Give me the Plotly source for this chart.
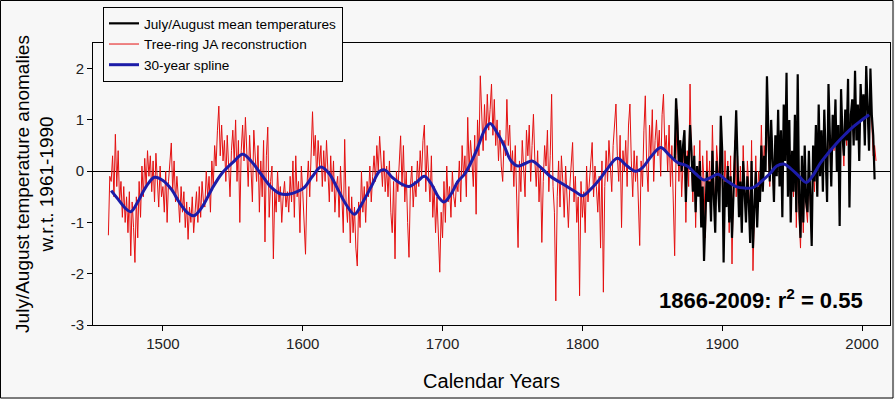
import plotly.graph_objects as go

# ---------------- data ----------------
tree_start = 1461
tree_ring = [
    -1.25, -0.1, -0.2, 0.3, -0.5, 0.72, -0.3, 0.4, -0.6, -0.2,
    -0.9, -0.3, -1.0, -0.5, -1.2, -0.4, -1.65, -0.6, -1.1, -1.78,
    -0.5, -1.3, -0.2, -0.9, 0.1, -0.5, 0.25, -0.3, 0.4, -0.1,
    0.3, -0.4, 0.2, -0.6, 0.35, -0.2, -0.7, 0.1, -0.5, -0.3,
    -0.8, 0.0, -1.0, -0.2, 0.3, 0.55, -0.4, 0.2, -0.6, -0.1,
    -0.5, -1.0, -0.3, -0.8, -0.4, -1.1, -0.6, -1.33, -0.7, -1.0,
    -0.5, -1.2, -0.8, -0.4, -1.0, -0.3, -0.9, -0.2, -0.6, -0.7,
    0.0, -0.5, -0.1, -0.8, 0.2, -0.3, 0.5, 0.1, 0.8, 1.27,
    0.3, 0.9, 0.2, 0.6, -0.2, 0.7, 0.1, -0.5, 0.4, 0.8,
    0.2, 1.0, -0.2, 0.6, -1.0, 0.4, 0.9, 0.2, 1.05, 0.5,
    -0.3, 0.7, 0.1, -0.6, 0.8, 0.3, -0.2, 0.5, -0.8, 0.2,
    -0.5, 0.6, -1.38, 0.3, 0.86, -0.9, -0.2, 0.1, -1.71, -0.4,
    -0.8, 0.0, -0.6, -0.3, -1.0, -0.5, -0.2, -0.7, -0.4, -0.8,
    -0.1, -0.6, 0.2, -0.9, 0.3, -0.5, -0.2, -1.2, 0.1, -0.4,
    -0.9, -1.62, -0.3, 0.2, -0.5, 0.5, 1.16, 0.3, 0.7, -0.2,
    0.6, 0.1, 0.5, -0.3, 0.4, -0.2, 0.6, 0.0, -0.6, 0.3,
    -0.4, 0.2, -0.8, -0.3, -0.1, -0.9, 0.1, -0.5, -1.2, 0.62,
    -0.6, -1.0, -0.3, -1.4, -0.5, -1.2, -0.7, -1.5, -1.85, -0.6,
    -1.1, 0.0, -0.8, -0.3, -1.0, -0.2, -0.5, 0.1, -0.6, -0.1,
    0.3, -0.2, 0.5, 0.0, 0.68, 0.2, -0.3, 0.4, -0.4, 0.1,
    -0.5, 0.2, -0.8, -1.2, -0.2, -1.71, 0.0, -0.4, 0.3, 0.69,
    -0.3, 0.5, -0.6, 0.0, -1.0, -1.68, -0.3, 0.1, -0.7, -0.2,
    -0.5, 0.2, -0.3, 0.4, -0.1, 0.6, 0.9, -0.4, 0.5, -0.2,
    -0.6, 0.3, -0.9, -0.3, -1.2, -0.5, -1.4, -1.97, -0.8, -1.3,
    -0.2, -1.0, 0.1, -0.6, -0.3, -0.9, 0.0, -0.5, -0.7, -0.2,
    -0.4, 0.2, -0.6, 0.5, -0.1, 0.3, -0.5, 1.05, 0.0, 0.6,
    0.2, -0.3, 0.7, -0.84, 1.0, 0.3, 1.86, 0.9, 0.4, 1.3,
    0.6, 1.5, 0.8, 1.2, 1.7, 0.7, 1.4, 0.5, 1.0, 0.2,
    0.8, 0.1, -0.2, 0.6, 0.3, 1.4, 0.5, 0.9, 0.0, 0.4,
    -0.3, 0.5, -0.6, -1.49, 0.2, -0.4, 0.6, 0.0, -0.5, 0.8,
    0.3, 0.9, -0.2, 0.5, 1.11, 0.2, -0.3, 0.4, -0.6, 0.1,
    -1.39, -0.2, 0.5, 0.1, 0.8, -0.4, 0.3, 1.5, -0.3, -0.8,
    -2.53, -0.5, 0.2, -0.7, 0.3, -0.2, -0.9, 0.1, -0.4, -1.1,
    -0.3, 0.2, 0.56, -0.6, -0.1, -1.0, -0.5, -2.43, -0.2, -0.9,
    -0.4, -1.2, 0.1, -0.6, -0.2, 0.3, 0.56, -0.5, 0.1, -0.3,
    -0.8, -0.1, -1.5, 0.2, -2.36, -0.3, 0.4, -0.2, 0.6, 0.1,
    -0.4, 0.5, 0.9, 1.31, 0.3, -0.2, 0.7, -1.1, 0.4, 0.0,
    0.6, -0.3, 0.9, 1.31, 0.2, -0.5, 0.4, -0.2, 0.3, -0.7,
    -1.45, 0.2, -0.3, 0.8, 1.47, 0.1, -0.4, 0.9, 0.3, 1.2,
    -0.2, 0.6, 1.0, 0.3, 0.8, -0.1, 1.1, 1.5, 0.4, 0.7,
    0.0, 0.9, -0.3, 0.5, -0.8, -1.65, 0.3, 1.2, -0.2, 0.6,
    -0.5, 0.3, 0.8, -1.0, 0.4, -0.3, 1.7, 0.2, -0.6, 0.5,
    -1.1, 0.0, -0.4, 0.6, -0.9, 0.3, -0.2, -1.3, 0.4, -0.5,
    0.2, -0.7, 0.9, -0.3, -1.0, 0.5, 0.1, -0.6, 0.8, -0.2,
    -0.9, 0.4, -0.4, 0.2, -1.2, 0.3, -1.81, -0.3, 0.6, -0.5,
    0.3, -0.8, 0.1, -1.1, 0.5, -0.4, -0.9, 0.2, -0.3, -1.3,
    0.6, -1.94, -0.5, 0.3, -0.8, 0.0, -0.4, 0.9, -0.2, 0.5,
    0.1, 1.6, 0.4, -0.3, 0.8, 0.2, -0.5, 0.6, 0.0, 1.0,
    -0.2, 0.5, -0.6, 0.9, 0.3, 1.3, -0.3, 0.7, -0.8, 0.2,
    -0.5, 0.6, -1.1, 0.4, -0.9, -1.5, -0.2, -1.2, 0.3, -0.7,
    -1.0, 0.1, -0.6, -1.3, 0.2, -0.4, 0.5, -0.3, 0.8, 0.0,
    0.6, -0.2, 1.0, 0.3, -0.4, 1.2, 0.5, -0.1, 0.9, 0.4,
    1.1, 0.2, 0.7, -0.3, 1.3, 0.6, 0.1, 1.0, 0.5, 1.4,
    0.3, 0.9, 1.2, 0.6, 1.5, 0.8, 1.1, 0.4, 1.6, 1.0,
    1.3, 0.7, 1.8, 1.1, 0.6, 1.5, 0.9, 0.3, 0.5, 0.2,
]
tree_years = list(range(tree_start, tree_start + len(tree_ring)))

obs_start = 1866
observed = [
    0.2, 1.42, 0.9, 0.1, 0.6,
    0.0, 0.5, 0.8, -0.6, 0.3, 0.1, 0.9, 0.4, -0.4, 0.3,
    -0.8, 0.1, -0.5, 0.2, -1.1, -0.3, -1.75, -0.9, 0.0, -0.6,
    -0.2, -0.98, 0.4, -0.5, -1.2, 0.2, -0.3, -0.8, 1.08, 0.4,
    -1.78, -0.2, -0.7, 0.1, -1.0, -0.1, -1.3, -0.6, 0.3, 1.19,
    0.1, -0.9, -0.2, -1.2, 0.2, -0.5, -1.0, -0.1, -0.6, -1.4,
    0.2, -1.5, -0.8, 0.0, -1.1, -0.3, -0.6, 0.5, -0.4, 0.3,
    0.0, 1.85, 0.8, -0.2, 1.0, 0.3, -0.6, 0.7, -0.1, 1.2,
    -0.3, 0.8, -0.9, 1.3, 0.2, 1.92, -0.5, 1.0, -1.0, 0.4,
    -0.4, 1.1, -0.8, 1.89, -0.6, -1.3, 0.3, -1.0, 0.5, -0.6,
    -0.8, 0.4, -0.4, -1.46, 0.5, -0.2, 0.9, -0.5, 1.3, -0.1,
    0.8, -0.4, 1.2, 0.2, -0.6, 1.7, 0.6, -0.3, 1.1, 0.5,
    1.4, 0.0, 0.9, -1.07, 1.6, 0.7, 0.3, 1.2, 0.6, 1.8,
    -0.71, 1.1, 1.4, 0.5, 1.96, 0.6, 1.3, 0.2, 1.7, 1.0,
    1.5, 0.5, 2.05, 1.2, 0.4, 2.0, 1.1, 0.7, -0.16,
]
obs_years = list(range(obs_start, obs_start + len(observed)))

spline_years = [
    1463, 1468, 1473, 1477, 1482, 1488, 1494, 1500, 1506, 1512, 1518, 1522,
    1528, 1535, 1542, 1550, 1557, 1563, 1570, 1577, 1584, 1590, 1596, 1601,
    1607, 1613, 1619, 1625, 1631, 1637, 1643, 1649, 1655, 1659, 1664, 1670,
    1676, 1682, 1687, 1692, 1697, 1701, 1706, 1711, 1716, 1720, 1725, 1730,
    1734, 1739, 1744, 1749, 1754, 1759, 1764, 1770, 1777, 1783, 1789, 1795,
    1800, 1806, 1812, 1818, 1825, 1832, 1838, 1843, 1849, 1856, 1862, 1868,
    1875, 1881, 1887, 1892, 1897, 1903, 1910, 1916, 1922, 1928, 1934, 1939,
    1944, 1949, 1955, 1960, 1965, 1970, 1976, 1982, 1988, 1993, 1999, 2005,
]
spline_vals = [
    -0.38, -0.55, -0.72, -0.79, -0.6, -0.3, -0.12, -0.18, -0.35, -0.62, -0.82, -0.87,
    -0.7, -0.35, -0.05, 0.17, 0.33, 0.2, -0.05, -0.3, -0.44, -0.45, -0.4, -0.32,
    -0.1, 0.08, -0.05, -0.35, -0.65, -0.84, -0.6, -0.3, 0.0, 0.02, -0.12, -0.24,
    -0.3, -0.2, -0.1, -0.25, -0.5, -0.6, -0.45, -0.2, -0.05, 0.15, 0.45, 0.8,
    0.93, 0.75, 0.5, 0.2, 0.1, 0.15, 0.2, 0.08, -0.1, -0.2, -0.3, -0.4,
    -0.48, -0.35, -0.17, 0.05, 0.25, 0.1, 0.0, 0.07, 0.28, 0.46, 0.32, 0.17,
    0.1, -0.05, -0.17, -0.12, -0.06, -0.18, -0.3, -0.33, -0.32, -0.2, -0.05, 0.1,
    0.14, 0.05, -0.1, -0.22, -0.08, 0.15, 0.36, 0.55, 0.72, 0.85, 0.98, 1.1,
]

x_ticks = [1500, 1600, 1700, 1800, 1900, 2000]
y_ticks = [-3, -2, -1, 0, 1, 2]
y_tick_labels = ["-3", "-2", "-1", "0", "1", "2"]

# ---------------- figure ----------------
W, H = 895, 399
L, R, T, B = 93, 5, 43, 74
BG = "#f7f7f7"
FONT = "Arial, Liberation Sans, sans-serif"

fig = go.Figure()
fig.add_trace(go.Scatter(
    x=tree_years, y=tree_ring, mode="lines", name="Tree-ring JA reconstruction",
    line=dict(color="#e41010", width=1), legendrank=2))
fig.add_trace(go.Scatter(
    x=obs_years, y=observed, mode="lines", name="July/August mean temperatures",
    line=dict(color="#000000", width=2.2), legendrank=1))
fig.add_trace(go.Scatter(
    x=spline_years, y=spline_vals, mode="lines", name="30-year spline",
    line=dict(color="#1c1ca8", width=3, shape="spline", smoothing=1.0), legendrank=3))

pw = W - L - R
ph = H - T - B
fig.add_shape(type="rect", xref="paper", yref="paper",
              x0=(-L + 0.5) / pw, x1=(pw + R - 2) / pw,
              y0=(-B + 1) / ph, y1=(ph + T - 0.5) / ph,
              line=dict(color="black", width=1), layer="above")

fig.add_annotation(
    x=2002, y=-2.5, xref="x", yref="y", xanchor="right", yanchor="middle",
    text="<b>1866-2009: r<sup>2</sup> = 0.55</b>", showarrow=False,
    font=dict(family=FONT, size=22, color="black"))

fig.update_layout(
    width=W, height=H,
    margin=dict(l=L, r=R, t=T, b=B),
    paper_bgcolor=BG, plot_bgcolor=BG,
    font=dict(family=FONT, color="black"),
    showlegend=True,
    legend=dict(
        x=10 / pw, y=(ph + T - 7) / ph, xanchor="left", yanchor="top",
        bgcolor=BG, bordercolor="black", borderwidth=1,
        font=dict(family=FONT, size=13.6, color="black"),
        tracegroupgap=0, itemwidth=30,
    ),
    xaxis=dict(
        range=[1450, 2020], tickvals=x_ticks, ticks="outside", ticklen=5,
        tickcolor="black", showline=True, linecolor="black", linewidth=1,
        mirror=True, showgrid=False, zeroline=False,
        tickfont=dict(family=FONT, size=15, color="#222222"),
        title=dict(text="Calendar Years", font=dict(family=FONT, size=20, color="black"),
                   standoff=22),
    ),
    yaxis=dict(
        range=[-3, 2.5], tickvals=y_ticks, ticktext=y_tick_labels,
        ticks="outside", ticklen=5,
        tickcolor="black", showline=True, linecolor="black", linewidth=1,
        mirror=True, showgrid=False, zeroline=True, zerolinecolor="black",
        zerolinewidth=1,
        tickfont=dict(family=FONT, size=15, color="#222222"),
        title=dict(text="July/August temperature anomalies<br>w.r.t. 1961-1990",
                   font=dict(family=FONT, size=19, color="black"), standoff=11),
    ),
)

fig.write_html(
    "out.html",
    config={"displayModeBar": False},
    post_script="document.body.style.margin='0';document.body.style.background='%s';" % BG,
)
